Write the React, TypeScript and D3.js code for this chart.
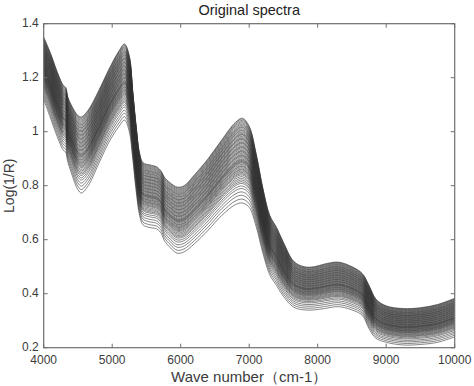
import React from "react";
import * as d3 from "d3";

// Wavenumber keypoints (cm-1)
const waveNumbers = [4000, 4100, 4200, 4290, 4320, 4350, 4400, 4500, 4550, 4650, 4800, 4950, 5100, 5180, 5250, 5300, 5350, 5400, 5450, 5550, 5650, 5720, 5760, 5850, 5950, 6050, 6200, 6400, 6600, 6800, 6900, 7000, 7100, 7200, 7300, 7400, 7500, 7650, 7800, 7950, 8100, 8300, 8500, 8650, 8750, 8850, 9000, 9250, 9500, 9750, 10000];
// Upper envelope of the spectra band
const upperSpectrum = [1.35, 1.29, 1.22, 1.17, 1.165, 1.13, 1.1, 1.06, 1.055, 1.08, 1.15, 1.23, 1.3, 1.325, 1.28, 1.15, 1.02, 0.92, 0.885, 0.877, 0.87, 0.852, 0.832, 0.81, 0.795, 0.8, 0.84, 0.9, 0.97, 1.035, 1.05, 1.02, 0.92, 0.79, 0.69, 0.645, 0.59, 0.52, 0.5, 0.5, 0.51, 0.517, 0.5, 0.475, 0.43, 0.38, 0.355, 0.345, 0.348, 0.36, 0.383];
// Lower envelope of the spectra band
const lowerSpectrum = [1.12, 1.05, 0.98, 0.93, 0.925, 0.89, 0.85, 0.785, 0.773, 0.8, 0.88, 0.96, 1.02, 1.043, 1.0, 0.9, 0.78, 0.69, 0.655, 0.645, 0.64, 0.622, 0.597, 0.57, 0.55, 0.555, 0.585, 0.635, 0.69, 0.73, 0.736, 0.72, 0.65, 0.55, 0.47, 0.43, 0.39, 0.35, 0.34, 0.34, 0.345, 0.352, 0.34, 0.32, 0.27, 0.235, 0.22, 0.21, 0.212, 0.22, 0.24];
// Relative position of each sample within the band (0 = lowest, 1 = highest)
const samplePositions = [0, 0.045, 0.09, 0.13, 0.17, 0.2, 0.23, 0.25, 0.27, 0.29, 0.31, 0.33, 0.345, 0.36, 0.375, 0.39, 0.4, 0.415, 0.43, 0.44, 0.455, 0.47, 0.48, 0.49, 0.5, 0.51, 0.52, 0.535, 0.55, 0.56, 0.57, 0.585, 0.6, 0.61, 0.62, 0.635, 0.65, 0.66, 0.67, 0.685, 0.7, 0.71, 0.72, 0.735, 0.75, 0.76, 0.77, 0.785, 0.8, 0.81, 0.82, 0.835, 0.85, 0.86, 0.875, 0.89, 0.9, 0.915, 0.93, 0.945, 0.96, 0.975, 0.99, 1];

const xTicks = [4000, 5000, 6000, 7000, 8000, 9000, 10000];
const yTicks = [0.2, 0.4, 0.6, 0.8, 1, 1.2, 1.4];

const W = 474;
const H = 386;
const left = 43.7;
const right = 454.7;
const top = 23.7;
const bottom = 347.7;

export default function App() {
  const x = d3.scaleLinear().domain([4000, 10000]).range([left, right]);
  const y = d3.scaleLinear().domain([0.2, 1.4]).range([bottom, top]);
  const line = d3
    .line<[number, number]>()
    .x((d) => x(d[0]))
    .y((d) => y(d[1]))
    .curve(d3.curveCatmullRom.alpha(0.5));

  const paths = samplePositions.map((t) =>
    line(waveNumbers.map((w, i) => [w, lowerSpectrum[i] + t * (upperSpectrum[i] - lowerSpectrum[i])]))
  );
  const axisColor = "#6e6e6e";
  const textColor = "#3c3c3c";
  const font = "'Liberation Sans', Arial, sans-serif";

  return (
    <svg width={W} height={H} style={{ position: "absolute", left: 0, top: 0, background: "#fff" }}>
      <defs>
        <clipPath id="plot">
          <rect x={left} y={top} width={right - left} height={bottom - top} />
        </clipPath>
      </defs>
      <g clipPath="url(#plot)">
        {paths.map((p, i) => (
          <path key={i} d={p || ""} fill="none" stroke="#333" strokeOpacity={0.8} strokeWidth={0.75} />
        ))}
      </g>
      <rect x={left} y={top} width={right - left} height={bottom - top} fill="none" stroke={axisColor} strokeWidth={1.2} />
      {xTicks.map((t) => (
        <g key={t}>
          <line x1={x(t)} x2={x(t)} y1={bottom} y2={bottom - 4} stroke={axisColor} />
          <line x1={x(t)} x2={x(t)} y1={top} y2={top + 4} stroke={axisColor} />
          <text x={x(t)} y={bottom + 16.5} textAnchor="middle" fontSize={12} fontFamily={font} fill={textColor}>
            {t}
          </text>
        </g>
      ))}
      {yTicks.map((t) => (
        <g key={t}>
          <line x1={left} x2={left + 4} y1={y(t)} y2={y(t)} stroke={axisColor} />
          <line x1={right} x2={right - 4} y1={y(t)} y2={y(t)} stroke={axisColor} />
          <text x={left - 5} y={y(t) + 3.5} textAnchor="end" fontSize={12} fontFamily={font} fill={textColor}>
            {String(t)}
          </text>
        </g>
      ))}
      <text x={(left + right) / 2} y={15} textAnchor="middle" fontSize={14.5} fontFamily={font} fill="#222">
        Original spectra
      </text>
      <text x={(left + right) / 2} y={382} textAnchor="middle" fontSize={15} fontFamily={font} fill={textColor}>
        Wave number（cm-1）
      </text>
      <text
        transform={`translate(14,${(top + bottom) / 2}) rotate(-90)`}
        textAnchor="middle"
        fontSize={14}
        fontFamily={font}
        fill={textColor}
      >
        Log(1/R)
      </text>
    </svg>
  );
}
